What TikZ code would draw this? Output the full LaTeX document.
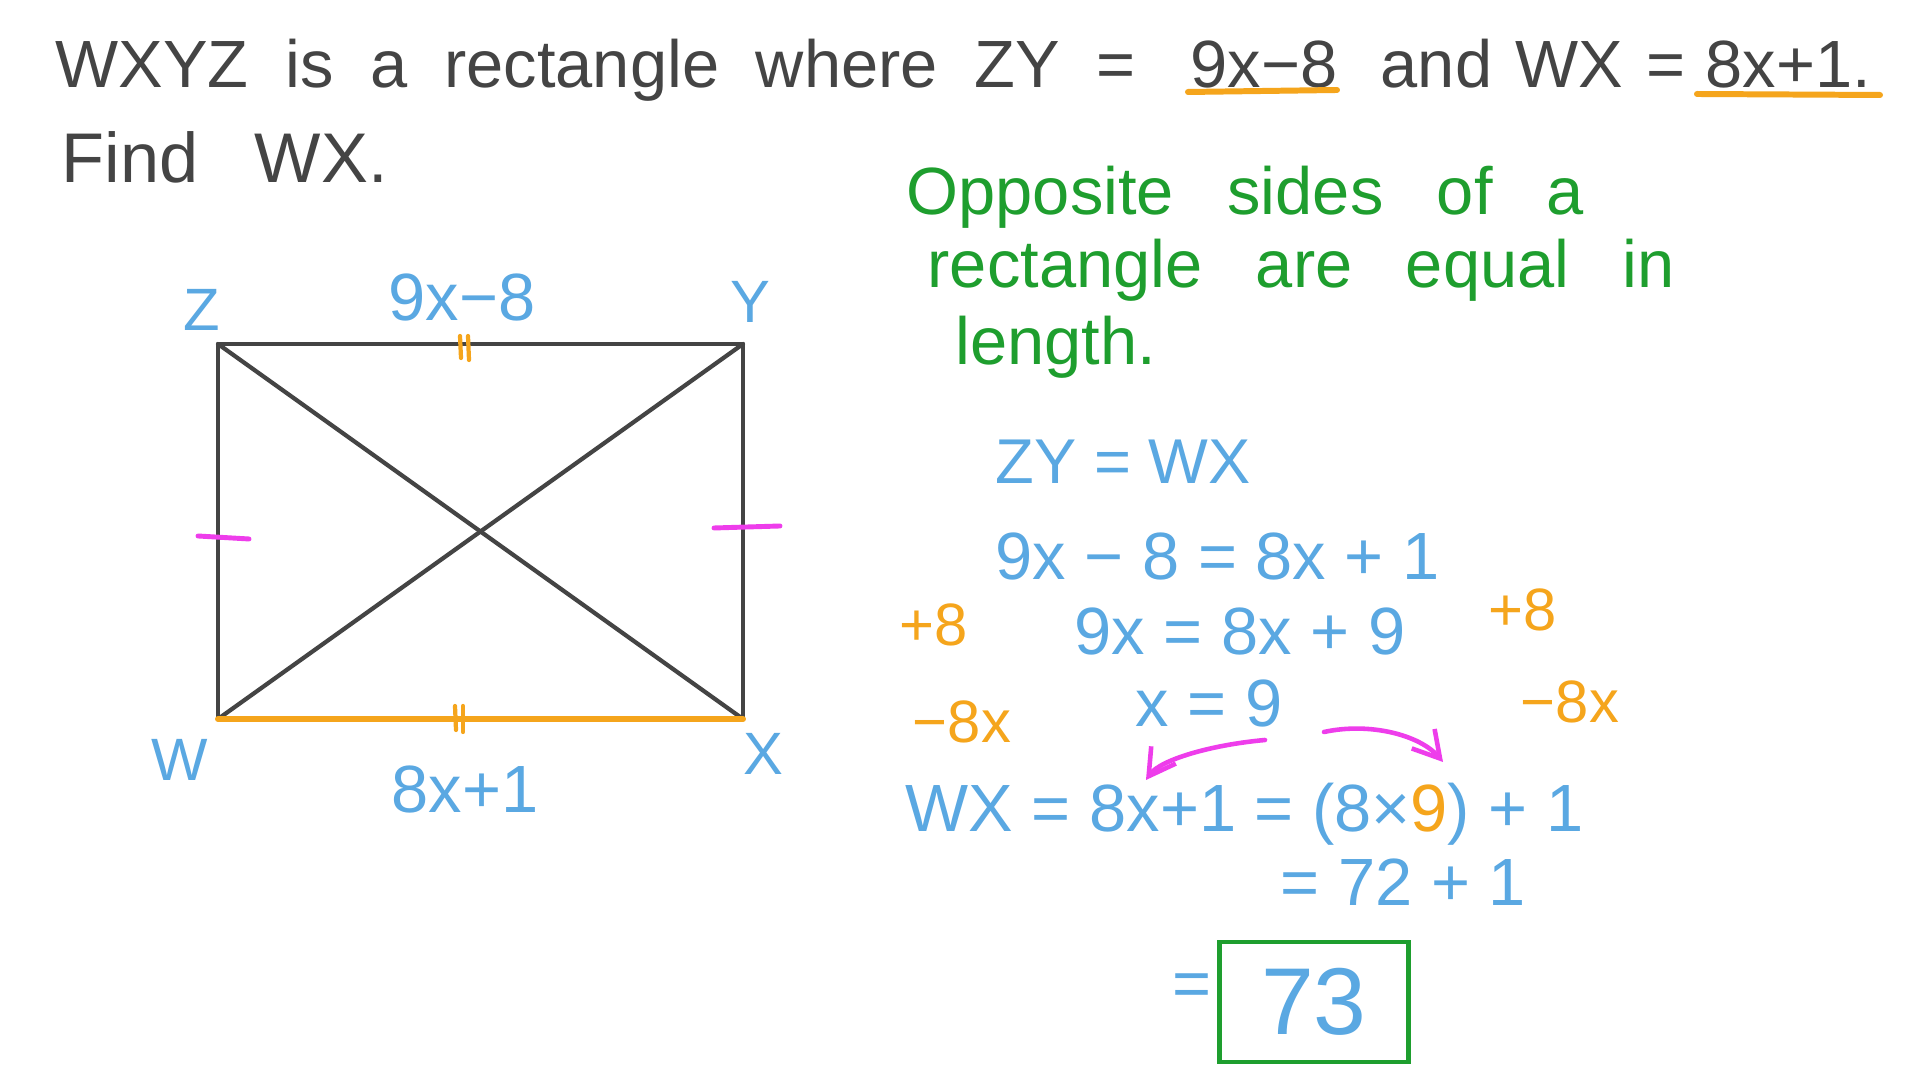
\documentclass[tikz,border=0pt]{standalone}
\usepackage{fontspec}
\setmainfont{Liberation Sans}
\usepackage{xcolor}
\usepackage{tikz}
\usetikzlibrary{arrows.meta,positioning}
\definecolor{bg}{HTML}{FFFFFF}
\definecolor{ink}{HTML}{444444}
\definecolor{sky}{HTML}{5AA8E2}
\definecolor{gold}{HTML}{F5A51C}
\definecolor{pink}{HTML}{EE3DEB}
\definecolor{leaf}{HTML}{1E9E2E}
\newcommand{\gapsp}[1]{\setlength{\spaceskip}{#1}}
\tikzset{
  side/.style={draw=ink, line width=1.2pt, line cap=round, line join=round},
  hl/.style={draw=gold, line width=1.7pt, line cap=round},
  tick/.style={draw=pink, line width=1.4pt, line cap=round},
  dash2/.style={draw=gold, line width=1.2pt, line cap=round},
  jump/.style={draw=pink, line width=1.3pt, line cap=round, -{Straight Barb[length=2.6mm,width=3mm]}},
  lab/.style={text=ink, font=\fontsize{19}{23}\selectfont\gapsp{0.55em}, inner sep=0pt, anchor=base west},
  labb/.style={text=sky, font=\fontsize{19}{23}\selectfont, inner sep=0pt},
  labg/.style={text=leaf, font=\fontsize{19}{23}\selectfont\gapsp{0.8em}, inner sep=0pt, anchor=base west},
  labo/.style={text=gold, font=\fontsize{17}{20}\selectfont, inner sep=0pt},
}

\begin{document}
\begin{tikzpicture}[x=0.01cm, y=-0.01cm]
\useasboundingbox[fill=bg] (0,0) rectangle (1920,1080);

% question
\node[lab] (q1) at (55,88) {WXYZ is a rectangle where ZY =};
\node[lab] (q1b) at (1190,88) {9x−8};
\node[lab, font=\fontsize{19}{23}\selectfont\gapsp{0.35em}] (q1c) at (1380,88) {and WX =};
\node[lab] (q1d) at (1705,88) {8x+1.};
\node[lab, font=\fontsize{20}{24}\selectfont\gapsp{0.8em}] (q2) at (61,183) {Find WX.};
\draw[hl] (1188,92) -- (1337,90);
\draw[hl] (1697,94) -- (1880,95);

% rectangle
\coordinate (Z) at (218,344);
\coordinate (Y) at (743,344);
\coordinate (W) at (218,719);
\coordinate (X) at (743,719);
\draw[side] (W) -- (Z) -- (Y) -- (X);
\draw[side] (Z) -- (X);
\draw[side] (W) -- (Y);
\draw[hl] (W) -- (X);
\node[labb, font=\fontsize{17}{20}\selectfont] (zl) at (202,310) {Z};
\node[labb, font=\fontsize{17}{20}\selectfont] (yl) at (750,302) {Y};
\node[labb, font=\fontsize{17}{20}\selectfont] (wl) at (180,760) {W};
\node[labb, font=\fontsize{17}{20}\selectfont] (xl) at (763,754) {X};
\node[labb] (top) at (462,298) {9x−8};
\node[labb] (bot) at (465,790) {8x+1};
% equal-side marks
\draw[dash2] (460,336) -- (461,358);
\draw[dash2] (468,336) -- (469,360);
\draw[dash2] (455,706) -- (456,730);
\draw[dash2] (463,706) -- (463,732);
\draw[tick] (198,536) -- (249,539);
\draw[tick] (714,528) -- (780,526);

% reason
\node[labg] (r1) at (906,215) {Opposite sides of a};
\node[labg] (r2) at (927,288) {rectangle are equal in};
\node[labg] (r3) at (955,365) {length.};

% working
\node[labb, anchor=base west, font=\fontsize{18}{21}\selectfont] (e1) at (995,484) {ZY = WX};
\node[labb, anchor=base west] (e2) at (995,580) {9x − 8 = 8x + 1};
\node[labb, anchor=base west] (e3) at (1074,655) {9x = 8x + 9};
\node[labo] (p1) at (934,625) {+8};
\node[labo] (p2) at (1523,610) {+8};
\node[labo] (m1) at (962,722) {−8x};
\node[labo] (m2) at (1570,702) {−8x};
\node[labb, anchor=base west] (e4) at (1135,727) {x = 9};
\node[labb, anchor=base west] (e5) at (905,832) {WX = 8x+1 = (8×{\color{gold}9}) + 1};
\node[labb, anchor=base west] (e6) at (1280,906) {= 72 + 1};
\node[labb] (eq) at (1192,990) {=};
\node[draw=leaf, line width=1.3pt, minimum width=1.89cm, minimum height=1.2cm,
      text=sky, font=\fontsize{27}{30}\selectfont] (ans) at (1314,1002) {73};
\coordinate (a1) at (1265,740);
\coordinate (a2) at (1146,780);
\coordinate (b1) at (1324,732);
\coordinate (b2) at (1443,762);
\draw[jump] (a1) .. controls (1210,745) and (1160,760) .. (a2);
\draw[jump] (b1) .. controls (1370,722) and (1420,735) .. (b2);
\end{tikzpicture}
\end{document}
